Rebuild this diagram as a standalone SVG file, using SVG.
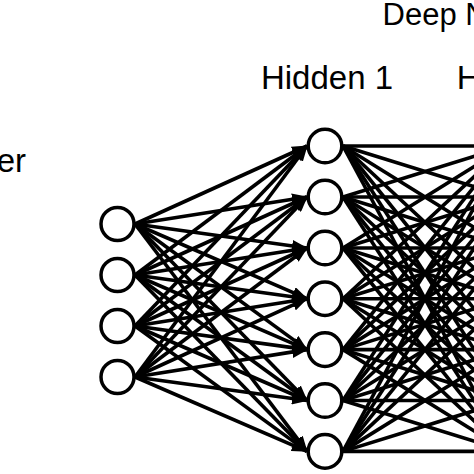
<svg xmlns="http://www.w3.org/2000/svg" width="474" height="474" viewBox="0 0 474 474">
<style>
.lbl{font-family:"Liberation Sans",Arial,sans-serif;fill:#000}
.node{fill:#fff;stroke:#000;stroke-width:3.5}
.edge{stroke:#000;stroke-width:3.6;fill:none;marker-end:url(#ah)}
</style>
<defs>
<marker id="ah" markerUnits="userSpaceOnUse" markerWidth="16" markerHeight="12" refX="15" refY="6" orient="auto">
<path d="M0,0 L16,6 L0,12 Z" fill="#000"/>
</marker>
</defs>
<rect width="474" height="474" fill="#fff"/>
<g id="labels">
<text class="lbl" x="382.6" y="25" font-size="31">Deep N</text>
<text class="lbl" x="327" y="89" font-size="33" text-anchor="middle">Hidden 1</text>
<text class="lbl" x="456.7" y="89" font-size="33">H</text>
<text class="lbl" x="26" y="172" font-size="33" text-anchor="end">er</text>
</g>
<g id="connectors">
<!-- input -> hidden 1 -->
<path class="edge" d="M135,224 L307,146"/><path class="edge" d="M135,224 L307,197"/><path class="edge" d="M135,224 L307,248"/><path class="edge" d="M135,224 L307,298.7"/><path class="edge" d="M135,224 L307,349.6"/><path class="edge" d="M135,224 L307,400.5"/><path class="edge" d="M135,224 L307,451.4"/>
<path class="edge" d="M135,275 L307,146"/><path class="edge" d="M135,275 L307,197"/><path class="edge" d="M135,275 L307,248"/><path class="edge" d="M135,275 L307,298.7"/><path class="edge" d="M135,275 L307,349.6"/><path class="edge" d="M135,275 L307,400.5"/><path class="edge" d="M135,275 L307,451.4"/>
<path class="edge" d="M135,326 L307,146"/><path class="edge" d="M135,326 L307,197"/><path class="edge" d="M135,326 L307,248"/><path class="edge" d="M135,326 L307,298.7"/><path class="edge" d="M135,326 L307,349.6"/><path class="edge" d="M135,326 L307,400.5"/><path class="edge" d="M135,326 L307,451.4"/>
<path class="edge" d="M135,377 L307,146"/><path class="edge" d="M135,377 L307,197"/><path class="edge" d="M135,377 L307,248"/><path class="edge" d="M135,377 L307,298.7"/><path class="edge" d="M135,377 L307,349.6"/><path class="edge" d="M135,377 L307,400.5"/><path class="edge" d="M135,377 L307,451.4"/>
<!-- hidden 1 -> hidden 2 -->
<path class="edge" d="M343,146 L507,146"/><path class="edge" d="M343,146 L507,197"/><path class="edge" d="M343,146 L507,248"/><path class="edge" d="M343,146 L507,298.7"/><path class="edge" d="M343,146 L507,349.6"/><path class="edge" d="M343,146 L507,400.5"/><path class="edge" d="M343,146 L507,451.4"/>
<path class="edge" d="M343,197 L507,146"/><path class="edge" d="M343,197 L507,197"/><path class="edge" d="M343,197 L507,248"/><path class="edge" d="M343,197 L507,298.7"/><path class="edge" d="M343,197 L507,349.6"/><path class="edge" d="M343,197 L507,400.5"/><path class="edge" d="M343,197 L507,451.4"/>
<path class="edge" d="M343,248 L507,146"/><path class="edge" d="M343,248 L507,197"/><path class="edge" d="M343,248 L507,248"/><path class="edge" d="M343,248 L507,298.7"/><path class="edge" d="M343,248 L507,349.6"/><path class="edge" d="M343,248 L507,400.5"/><path class="edge" d="M343,248 L507,451.4"/>
<path class="edge" d="M343,298.7 L507,146"/><path class="edge" d="M343,298.7 L507,197"/><path class="edge" d="M343,298.7 L507,248"/><path class="edge" d="M343,298.7 L507,298.7"/><path class="edge" d="M343,298.7 L507,349.6"/><path class="edge" d="M343,298.7 L507,400.5"/><path class="edge" d="M343,298.7 L507,451.4"/>
<path class="edge" d="M343,349.6 L507,146"/><path class="edge" d="M343,349.6 L507,197"/><path class="edge" d="M343,349.6 L507,248"/><path class="edge" d="M343,349.6 L507,298.7"/><path class="edge" d="M343,349.6 L507,349.6"/><path class="edge" d="M343,349.6 L507,400.5"/><path class="edge" d="M343,349.6 L507,451.4"/>
<path class="edge" d="M343,400.5 L507,146"/><path class="edge" d="M343,400.5 L507,197"/><path class="edge" d="M343,400.5 L507,248"/><path class="edge" d="M343,400.5 L507,298.7"/><path class="edge" d="M343,400.5 L507,349.6"/><path class="edge" d="M343,400.5 L507,400.5"/><path class="edge" d="M343,400.5 L507,451.4"/>
<path class="edge" d="M343,451.4 L507,146"/><path class="edge" d="M343,451.4 L507,197"/><path class="edge" d="M343,451.4 L507,248"/><path class="edge" d="M343,451.4 L507,298.7"/><path class="edge" d="M343,451.4 L507,349.6"/><path class="edge" d="M343,451.4 L507,400.5"/><path class="edge" d="M343,451.4 L507,451.4"/>
</g>
<g id="input-1"><circle class="node" cx="117.5" cy="224" r="16.5"/></g>
<g id="input-2"><circle class="node" cx="117.5" cy="275" r="16.5"/></g>
<g id="input-3"><circle class="node" cx="117.5" cy="326" r="16.5"/></g>
<g id="input-4"><circle class="node" cx="117.5" cy="377" r="16.5"/></g>
<g id="hidden1-1"><circle class="node" cx="325" cy="146" r="16.8"/></g>
<g id="hidden1-2"><circle class="node" cx="325" cy="197" r="16.8"/></g>
<g id="hidden1-3"><circle class="node" cx="325" cy="248" r="16.8"/></g>
<g id="hidden1-4"><circle class="node" cx="325" cy="298.7" r="16.8"/></g>
<g id="hidden1-5"><circle class="node" cx="325" cy="349.6" r="16.8"/></g>
<g id="hidden1-6"><circle class="node" cx="325" cy="400.5" r="16.8"/></g>
<g id="hidden1-7"><circle class="node" cx="325" cy="451.4" r="16.8"/></g>
</svg>
